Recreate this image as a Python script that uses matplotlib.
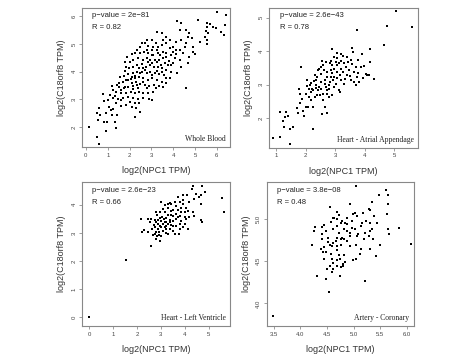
import matplotlib
matplotlib.use("Agg")
import matplotlib.pyplot as plt

# values, one pair of lists per tissue
wb_x = [6.02, 6.44, 5.15, 4.18, 4.38, 4.30, 3.24, 3.50, 4.61, 4.73, 4.68, 4.84, 4.38, 4.15,
        5.56, 5.71, 5.84, 5.96, 5.53, 5.50, 5.60, 5.44, 5.53, 5.56, 6.21, 6.31, 6.37, 5.22,
        4.89, 4.92, 5.00, 4.73, 4.68, 4.43, 4.31, 4.15, 4.00, 3.85, 3.69, 3.54, 3.47, 3.31,
        3.21, 3.08, 3.01, 2.85, 2.70, 2.47, 2.24, 2.47, 2.66, 2.85, 3.08, 3.31, 3.54, 3.69,
        3.92, 4.08, 4.31, 4.00, 3.77, 3.54, 3.36, 3.16, 2.96, 2.78, 2.60, 2.40, 2.17, 2.02,
        1.83, 1.98, 2.17, 2.35, 2.55, 2.75, 2.93, 3.11, 3.31, 3.51, 3.69, 3.92, 4.18, 3.85,
        3.57, 3.36, 3.16, 2.96, 2.78, 2.55, 2.32, 2.14, 1.94, 1.74, 1.56, 1.68, 1.86, 2.05,
        2.24, 2.44, 2.63, 2.85, 3.05, 3.27, 3.47, 3.66, 3.36, 3.11, 2.90, 2.70, 2.50, 2.32,
        2.14, 1.94, 1.74, 1.53, 1.18, 1.40, 1.59, 1.83, 2.05, 2.24, 2.44, 2.63, 2.85, 3.08,
        2.90, 2.63, 2.40, 2.17, 1.94, 1.71, 1.48, 1.25, 1.40, 1.59, 1.83, 2.09, 2.29, 2.47,
        2.24, 1.44, 1.13, 0.92, 0.79, 0.82, 1.02, 1.07, 1.18, 0.64, 0.61, 0.52, 0.56, 0.82,
        0.98, 1.33, 1.37, 0.92, 0.15, 0.52, 0.61, 1.22, 1.63, 1.79, 2.09, 2.29, 2.47, 2.70,
        3.01, 3.24, 3.42, 3.62, 3.82, 3.97, 4.12, 4.53, 4.61, 3.85, 3.66, 3.01, 2.78, 2.55,
        2.32, 2.09, 1.89, 1.79, 4.58, 3.54, 3.21, 3.01, 2.44, 2.24, 2.02, 1.94, 2.09, 2.24,
        2.44, 2.60, 2.85, 3.05, 3.24, 2.78, 3.01, 3.27, 3.39, 3.69, 3.88, 4.35, 3.47, 3.69,
        2.63, 2.40, 2.78, 2.17, 1.63, 1.44, 1.25, 1.10, 1.33, 1.53, 1.79]
wb_y = [6.16, 6.04, 5.88, 5.83, 5.74, 5.50, 5.44, 5.38, 5.50, 5.38, 5.26, 5.23, 5.14, 5.08,
        5.74, 5.71, 5.62, 5.59, 5.62, 5.47, 5.38, 5.26, 5.14, 5.00, 5.44, 5.32, 5.68, 5.08,
        4.90, 4.72, 4.63, 4.54, 4.32, 4.66, 4.78, 4.78, 4.90, 4.84, 5.02, 5.14, 4.96, 4.90,
        5.02, 4.90, 4.78, 4.92, 5.02, 4.90, 4.66, 4.66, 4.72, 4.66, 4.60, 4.66, 4.72, 4.66,
        4.60, 4.48, 4.42, 4.30, 4.24, 4.48, 4.42, 4.44, 4.42, 4.48, 4.44, 4.48, 4.42, 4.36,
        4.18, 4.12, 4.18, 4.24, 4.28, 4.18, 4.24, 4.18, 4.18, 4.12, 4.06, 4.00, 3.96, 3.76,
        3.88, 3.92, 3.96, 4.00, 3.96, 4.00, 4.00, 3.96, 3.92, 3.84, 3.80, 3.64, 3.70, 3.72,
        3.76, 3.80, 3.76, 3.70, 3.76, 3.70, 3.64, 3.58, 3.48, 3.52, 3.48, 3.52, 3.54, 3.52,
        3.48, 3.46, 3.40, 3.44, 3.48, 3.28, 3.22, 3.25, 3.28, 3.22, 3.28, 3.25, 3.22, 3.28,
        3.01, 3.04, 3.01, 3.04, 3.08, 3.04, 3.01, 3.04, 2.86, 2.77, 2.80, 2.72, 2.68, 2.56,
        2.36, 2.44, 2.62, 2.50, 3.20, 2.96, 2.98, 2.74, 2.44, 2.44, 2.68, 2.50, 2.26, 2.20,
        2.17, 2.20, 1.96, 1.88, 2.00, 1.64, 1.40, 2.65, 2.98, 3.46, 3.58, 3.64, 3.94, 4.06,
        3.88, 4.04, 4.26, 4.32, 4.40, 4.72, 4.63, 4.90, 5.04, 5.16, 5.26, 5.14, 5.14, 5.02,
        4.78, 4.63, 4.54, 4.36, 3.40, 3.44, 3.40, 2.98, 2.86, 2.86, 2.92, 3.70, 3.82, 3.86,
        4.12, 4.12, 4.36, 4.30, 4.36, 4.78, 4.60, 4.78, 4.60, 4.54, 4.24, 4.18, 4.00, 3.76,
        3.64, 3.40, 3.40, 3.36, 3.34, 3.52, 3.34, 3.16, 3.12, 3.58, 4.02]

aa_x = [5.06, 5.58, 4.75, 3.73, 4.63, 2.88, 1.84, 3.55, 3.61, 3.89, 4.16, 4.17, 3.98, 3.18,
        3.25, 3.07, 3.01, 2.56, 2.67, 2.81, 2.59, 3.07, 3.30, 3.43, 3.57, 3.69, 3.64, 3.47,
        3.18, 2.95, 2.84, 2.73, 2.61, 2.50, 2.39, 2.27, 2.18, 2.14, 2.05, 2.33, 2.44, 2.36,
        2.52, 2.67, 2.78, 2.93, 3.05, 3.18, 3.32, 3.52, 3.73, 3.92, 4.07, 4.32, 4.15, 3.64,
        3.69, 3.80, 4.03, 3.30, 3.13, 3.16, 2.95, 2.73, 2.59, 2.48, 2.39, 2.30, 2.18, 2.25,
        2.08, 1.99, 1.91, 1.93, 1.88, 1.99, 1.80, 1.76, 1.80, 1.73, 1.70, 2.10, 2.16, 2.25,
        2.59, 2.64, 2.56, 2.73, 2.78, 2.90, 2.70, 2.95, 2.84, 2.73, 2.64, 2.52, 2.81, 2.89,
        3.07, 3.16, 3.27, 3.35, 3.20, 2.95, 2.84, 2.50, 2.41, 2.30, 2.10, 2.05, 3.50, 3.75,
        3.86, 1.14, 1.34, 1.39, 1.31, 1.22, 1.25, 1.57, 1.45, 0.89, 1.11, 1.45, 2.25, 2.44,
        2.34, 2.22, 3.41, 3.52, 3.07, 3.75, 3.13, 2.90, 3.41, 2.41, 2.64, 2.78, 3.01]
aa_y = [5.20, 4.73, 4.75, 4.65, 4.19, 4.06, 3.52, 4.09, 3.99, 3.92, 4.06, 3.67, 3.57, 3.91,
        3.86, 3.79, 3.69, 3.72, 3.69, 3.64, 3.59, 3.59, 3.64, 3.69, 3.62, 3.54, 3.38, 3.43,
        3.48, 3.48, 3.43, 3.38, 3.43, 3.31, 3.23, 3.11, 3.05, 2.98, 2.95, 2.98, 2.93, 2.91,
        2.88, 2.93, 2.98, 3.13, 3.21, 3.13, 3.18, 3.15, 3.23, 3.21, 3.28, 3.18, 3.28, 3.08,
        2.98, 3.08, 3.33, 3.03, 2.83, 2.78, 2.93, 2.83, 2.73, 2.70, 2.68, 2.63, 2.53, 2.34,
        2.32, 2.34, 2.22, 2.07, 2.58, 2.73, 2.71, 2.88, 2.44, 2.14, 2.30, 2.63, 2.78, 2.83,
        2.53, 2.34, 2.12, 2.15, 2.63, 2.68, 2.73, 3.23, 3.23, 3.23, 3.13, 3.08, 3.08, 3.35,
        3.38, 3.28, 3.38, 3.54, 3.72, 3.84, 3.72, 3.54, 3.43, 3.28, 2.88, 3.13, 3.26, 3.36,
        3.54, 2.17, 2.17, 2.07, 2.04, 1.90, 1.74, 1.72, 1.67, 1.41, 1.44, 1.21, 1.67, 3.48,
        3.13, 2.88, 3.84, 3.74, 3.94, 3.74, 3.64, 3.59, 3.28, 2.83, 3.03, 2.88, 3.03]

lv_x = [0.00, 1.53, 4.33, 4.71, 4.85, 4.28, 4.47, 4.57, 4.67, 5.56, 5.65, 3.92, 4.40, 4.67,
        4.68, 4.72, 4.33, 4.40, 4.06, 3.92, 3.78, 3.64, 3.43, 3.36, 3.01, 3.15, 3.29, 3.50,
        3.71, 3.85, 4.01, 4.13, 3.78, 3.64, 3.43, 3.29, 3.15, 2.94, 2.81, 2.83, 3.06, 3.22,
        3.36, 3.50, 3.64, 3.85, 3.99, 4.13, 3.78, 3.64, 3.43, 3.29, 3.15, 3.01, 2.88, 2.74,
        2.60, 2.46, 2.18, 2.28, 2.22, 2.46, 2.64, 2.74, 2.81, 2.74, 2.92, 2.81, 2.97, 2.60,
        2.88, 3.01, 3.08, 3.22, 3.36, 3.50, 3.60, 3.74, 3.22, 2.94, 2.88, 3.08, 3.22, 3.36,
        2.94, 3.11, 3.50, 3.71, 4.06, 4.19, 3.71, 4.10, 3.90, 2.81, 2.69, 2.56, 2.92, 3.01,
        2.83, 2.67, 3.22, 3.43, 3.57, 3.29, 3.08, 3.85, 3.99, 3.15, 3.29, 3.50, 3.78, 3.92,
        4.19]
lv_y = [0.00, 2.02, 4.68, 4.65, 4.46, 4.56, 4.38, 4.26, 4.35, 4.23, 3.73, 4.35, 4.20, 4.02,
        3.46, 3.39, 3.75, 3.61, 3.49, 4.02, 4.08, 3.96, 4.02, 4.06, 4.08, 3.99, 3.87, 3.82,
        3.82, 3.73, 3.73, 3.79, 3.61, 3.67, 3.63, 3.63, 3.73, 3.73, 3.75, 3.63, 3.58, 3.51,
        3.46, 3.43, 3.49, 3.43, 3.31, 3.13, 3.31, 3.25, 3.27, 3.31, 3.37, 3.43, 3.46, 3.46,
        3.49, 3.49, 3.49, 3.11, 3.04, 3.04, 3.13, 3.19, 3.04, 2.95, 2.92, 2.77, 2.71, 2.54,
        3.13, 3.19, 3.07, 3.13, 3.15, 3.07, 2.95, 2.95, 2.99, 3.25, 3.33, 3.31, 3.37, 3.39,
        3.51, 3.49, 3.61, 3.55, 3.90, 4.08, 4.26, 4.35, 4.17, 3.37, 3.27, 3.37, 3.02, 2.87,
        2.87, 2.92, 3.25, 3.79, 4.08, 4.02, 3.85, 3.90, 3.55, 3.19, 2.95, 3.25, 3.13, 3.19,
        3.55]

ac_x = [3.49, 5.04, 5.61, 5.47, 5.64, 5.34, 4.94, 4.56, 5.64, 5.62, 5.03, 5.07, 5.28, 5.31,
        5.17, 5.39, 4.69, 4.78, 4.84, 4.64, 4.28, 4.25, 4.41, 4.48, 4.40, 4.57, 4.62, 4.69,
        4.72, 4.81, 4.88, 4.97, 5.03, 5.14, 5.24, 5.31, 5.44, 5.86, 5.64, 5.66, 5.31, 5.22,
        5.09, 4.94, 4.78, 4.77, 4.81, 4.69, 4.62, 4.56, 4.51, 4.59, 4.22, 4.45, 4.42, 4.49,
        4.69, 4.76, 4.88, 5.04, 5.19, 5.28, 5.36, 5.50, 6.08, 5.31, 5.14, 4.68, 4.58, 4.72,
        4.81, 4.59, 4.98, 5.04, 5.42, 4.75, 4.80, 4.84, 4.62, 4.69, 4.56, 4.50, 4.61, 4.77,
        4.80, 4.59, 4.31, 4.49, 4.75, 5.22, 4.53, 4.39, 4.94, 4.99, 4.72, 4.44, 4.62, 4.88,
        5.16, 5.34, 5.06, 4.69, 4.76, 4.88, 4.51, 4.66, 4.41, 4.94, 5.12, 4.69, 4.44, 4.97]
ac_y = [3.85, 5.39, 5.35, 5.29, 5.29, 5.20, 5.18, 5.14, 5.18, 5.06, 5.07, 5.04, 5.12, 5.11,
        5.08, 5.04, 5.09, 4.98, 4.96, 5.02, 4.91, 4.86, 4.91, 4.86, 4.82, 4.97, 4.88, 4.92,
        4.84, 4.88, 4.94, 4.98, 4.88, 4.92, 4.98, 4.96, 4.96, 4.90, 4.88, 4.82, 4.86, 4.84,
        4.82, 4.80, 4.78, 4.76, 4.76, 4.78, 4.72, 4.70, 4.73, 4.68, 4.70, 4.67, 4.61, 4.61,
        4.68, 4.70, 4.74, 4.70, 4.76, 4.80, 4.76, 4.70, 4.71, 4.65, 4.65, 4.63, 4.59, 4.57,
        4.57, 4.53, 4.51, 4.53, 4.56, 4.53, 4.47, 4.49, 4.48, 4.44, 4.44, 4.41, 4.41, 4.43,
        4.44, 4.37, 4.33, 4.29, 4.33, 4.27, 4.13, 4.65, 4.84, 5.06, 5.05, 4.93, 5.01, 5.02,
        4.96, 4.88, 4.80, 5.00, 4.96, 4.86, 4.78, 4.74, 4.76, 4.68, 4.59, 4.51, 4.53, 4.90]

panels = [
    dict(x=wb_x, y=wb_y, pval="p\u2212value = 2e\u221281", r="R = 0.82", tissue="Whole Blood",
         xlim=(-0.18, 6.6), ylim=(1.28, 6.29), xt=[0, 1, 2, 3, 4, 5, 6], yt=[2, 3, 4, 5, 6],
         rect=[0.173, 0.589, 0.312, 0.388], fmt="{:g}"),
    dict(x=aa_x, y=aa_y, pval="p\u2212value = 2.6e\u221243", r="R = 0.78",
         tissue="Heart - Atrial Appendage",
         xlim=(0.76, 5.8), ylim=(1.1, 5.3), xt=[1, 2, 3, 4, 5], yt=[2, 3, 4, 5],
         rect=[0.568, 0.587, 0.314, 0.391], fmt="{:g}"),
    dict(x=lv_x, y=lv_y, pval="p\u2212value = 2.6e\u221223", r="R = 0.66",
         tissue="Heart - Left Ventricle",
         xlim=(-0.3, 5.88), ylim=(-0.32, 4.8), xt=[0, 1, 2, 3, 4, 5], yt=[0, 1, 2, 3, 4],
         rect=[0.173, 0.089, 0.312, 0.402], fmt="{:g}"),
    dict(x=ac_x, y=ac_y, pval="p\u2212value = 3.8e\u221208", r="R = 0.48",
         tissue="Artery - Coronary",
         xlim=(3.37, 6.13), ylim=(3.73, 5.44), xt=[3.5, 4.0, 4.5, 5.0, 5.5, 6.0],
         yt=[4.0, 4.5, 5.0], rect=[0.563, 0.089, 0.310, 0.402], fmt="{:.1f}"),
]

fig = plt.figure(figsize=(4.74, 3.58), dpi=100)
sans = ["Liberation Sans", "DejaVu Sans"]
serif = ["Liberation Serif", "DejaVu Serif"]

for p in panels:
    ax = fig.add_axes(p["rect"])
    ax.scatter(p["x"], p["y"], s=1.5, c="black", marker="s", linewidths=0)
    ax.set_xlim(*p["xlim"])
    ax.set_ylim(*p["ylim"])
    ax.set_xticks(p["xt"])
    ax.set_yticks(p["yt"])
    ax.set_xticklabels([p["fmt"].format(v) for v in p["xt"]], fontsize=4.3, family=sans,
                       color="#444444")
    ax.set_yticklabels([p["fmt"].format(v) for v in p["yt"]], fontsize=4.3, family=sans,
                       rotation=90, va="center", color="#444444")
    ax.tick_params(length=2, width=0.5, color="#777777", pad=2)
    for s in ax.spines.values():
        s.set_color("#888888")
        s.set_linewidth(0.8)
    ax.set_xlabel("log2(NPC1 TPM)", fontsize=6.5, family=sans, labelpad=6, color="#333333")
    ax.set_ylabel("log2(C18orf8 TPM)", fontsize=6.5, family=sans, labelpad=4, color="#333333")
    ax.text(0.07, 0.97, p["pval"], transform=ax.transAxes, fontsize=5.5, family=sans,
            va="top", color="#222222")
    ax.text(0.07, 0.885, p["r"], transform=ax.transAxes, fontsize=5.5, family=sans,
            va="top", color="#222222")
    ax.text(0.97, 0.03, p["tissue"], transform=ax.transAxes, fontsize=5.5, family=serif,
            ha="right", va="bottom", color="#222222")

fig.savefig("out.png", dpi=100)
